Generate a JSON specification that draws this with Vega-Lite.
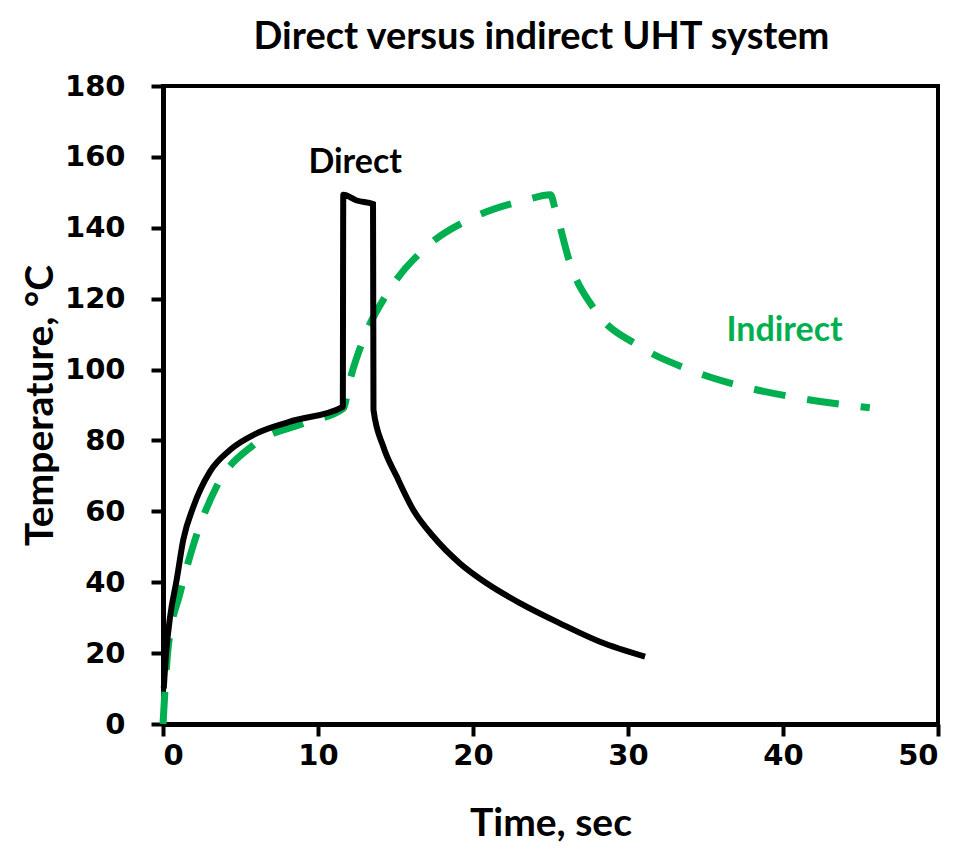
{
  "$schema": "https://vega.github.io/schema/vega-lite/v6.json",
  "width": 775,
  "height": 638,
  "autosize": "none",
  "padding": {"left": 163, "top": 86, "right": 31, "bottom": 131},
  "background": "white",
  "config": {
    "view": {"stroke": "black", "strokeWidth": 4},
    "font": "Lato",
    "axis": {
      "grid": false,
      "domainColor": "black",
      "domainWidth": 5,
      "tickColor": "black",
      "tickWidth": 4,
      "tickSize": 12,
      "labelFont": "DejaVu Sans",
      "labelFontSize": 29,
      "labelFontWeight": "bold",
      "labelColor": "black",
      "titleFont": "Lato",
      "titleFontSize": 39,
      "titleFontWeight": "bold",
      "titleColor": "black"
    }
  },
  "title": {
    "text": "Direct versus indirect UHT system",
    "font": "Lato",
    "fontSize": 38,
    "fontWeight": "bold",
    "color": "black",
    "anchor": "middle",
    "offset": 15,
    "dx": -9
  },
  "datasets": {
    "direct": [
      {"i": 0, "t": 0.05, "temp": 10},
      {"i": 1, "t": 0.2, "temp": 20},
      {"i": 2, "t": 0.45, "temp": 30},
      {"i": 3, "t": 0.88, "temp": 40.6},
      {"i": 4, "t": 1.31, "temp": 52},
      {"i": 5, "t": 1.96, "temp": 61.3},
      {"i": 6, "t": 3.03, "temp": 71.2},
      {"i": 7, "t": 4.32, "temp": 77.3},
      {"i": 8, "t": 6.04, "temp": 82},
      {"i": 9, "t": 8.19, "temp": 85.3},
      {"i": 10, "t": 11.6, "temp": 89.5},
      {"i": 11, "t": 11.63, "temp": 149.3},
      {"i": 12, "t": 12.5, "temp": 147.7},
      {"i": 13, "t": 13.55, "temp": 146.7},
      {"i": 14, "t": 13.58, "temp": 88.6},
      {"i": 15, "t": 14.21, "temp": 78.3},
      {"i": 16, "t": 15.08, "temp": 69.8},
      {"i": 17, "t": 16.15, "temp": 60.4},
      {"i": 18, "t": 17.44, "temp": 52.9},
      {"i": 19, "t": 19.16, "temp": 45.3},
      {"i": 20, "t": 20.88, "temp": 39.7},
      {"i": 21, "t": 23.03, "temp": 34.1},
      {"i": 22, "t": 25.61, "temp": 28.4},
      {"i": 23, "t": 28.19, "temp": 23.2},
      {"i": 24, "t": 31.1, "temp": 19.0}
    ],
    "indirect": [
      {"i": 0, "t": 0, "temp": 0},
      {"i": 1, "t": 0.34, "temp": 21.8},
      {"i": 2, "t": 1.1, "temp": 36.9},
      {"i": 3, "t": 2.06, "temp": 51.9},
      {"i": 4, "t": 3.46, "temp": 67},
      {"i": 5, "t": 5.83, "temp": 78.7},
      {"i": 6, "t": 9.05, "temp": 84.8},
      {"i": 7, "t": 11.63, "temp": 89},
      {"i": 8, "t": 12.06, "temp": 97},
      {"i": 9, "t": 12.92, "temp": 108.4},
      {"i": 10, "t": 14.54, "temp": 122},
      {"i": 11, "t": 16.9, "temp": 134.2},
      {"i": 12, "t": 19.92, "temp": 142.7},
      {"i": 13, "t": 23.46, "temp": 147.9},
      {"i": 14, "t": 25.0, "temp": 149.3},
      {"i": 15, "t": 25.29, "temp": 145.5},
      {"i": 16, "t": 26.26, "temp": 130},
      {"i": 17, "t": 27.87, "temp": 116.8},
      {"i": 18, "t": 30.77, "temp": 106.5},
      {"i": 19, "t": 34.0, "temp": 99.9},
      {"i": 20, "t": 37.44, "temp": 95.2},
      {"i": 21, "t": 41.1, "temp": 91.9},
      {"i": 22, "t": 45.6, "temp": 89.2}
    ],
    "labels": [
      {"t": 12.4, "temp": 158.3, "label": "Direct", "series": "Direct"},
      {"t": 40.1, "temp": 110.8, "label": "Indirect", "series": "Indirect"}
    ]
  },
  "layer": [
    {
      "data": {"name": "indirect"},
      "mark": {"type": "line", "color": "#00B050", "strokeWidth": 7, "strokeDash": [32, 22], "interpolate": "monotone"},
      "encoding": {
        "x": {"field": "t", "type": "quantitative", "scale": {"domain": [0, 50], "nice": false},
              "axis": {"values": [0, 10, 20, 30, 40, 50], "title": "Time, sec", "labelPadding": 5, "titlePadding": 34}},
        "y": {"field": "temp", "type": "quantitative", "scale": {"domain": [0, 180], "nice": false},
              "axis": {"values": [0, 20, 40, 60, 80, 100, 120, 140, 160, 180], "title": "Temperature, °C", "labelPadding": 26, "titlePadding": 4}},
        "order": {"field": "i", "type": "quantitative"}
      }
    },
    {
      "data": {"name": "direct"},
      "mark": {"type": "line", "color": "black", "strokeWidth": 6, "strokeJoin": "miter", "interpolate": "monotone"},
      "encoding": {
        "x": {"field": "t", "type": "quantitative"},
        "y": {"field": "temp", "type": "quantitative"},
        "order": {"field": "i", "type": "quantitative"}
      }
    },
    {
      "data": {"name": "labels"},
      "mark": {"type": "text", "fontSize": 34, "fontWeight": "bold", "font": "Lato", "align": "center", "baseline": "middle"},
      "encoding": {
        "x": {"field": "t", "type": "quantitative"},
        "y": {"field": "temp", "type": "quantitative"},
        "text": {"field": "label"},
        "color": {"field": "series", "type": "nominal", "scale": {"domain": ["Direct", "Indirect"], "range": ["black", "#00B050"]}, "legend": null}
      }
    }
  ]
}
